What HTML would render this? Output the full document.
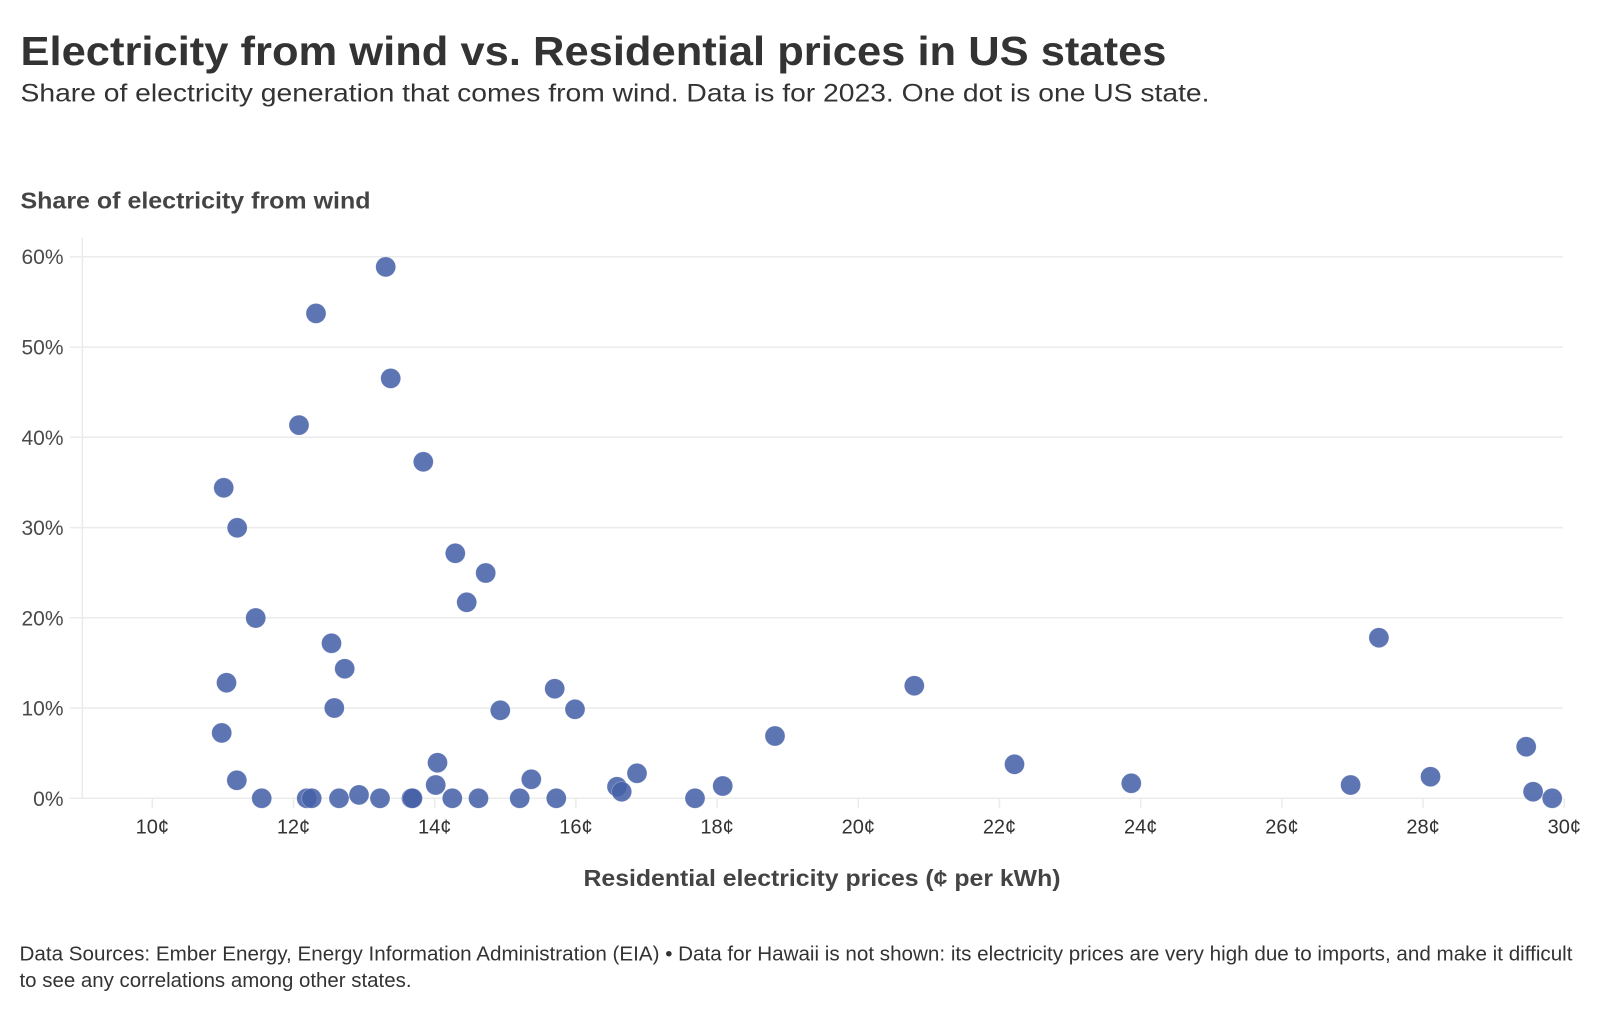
<!DOCTYPE html>
<html>
<head>
<meta charset="utf-8">
<style>
  html, body { margin: 0; padding: 0; background: #ffffff; }
  svg { display: block; }
  text { font-family: "Liberation Sans", "DejaVu Sans", sans-serif; }
</style>
</head>
<body>
<svg width="1600" height="1009" viewBox="0 0 1600 1009" xmlns="http://www.w3.org/2000/svg">
  <rect x="0" y="0" width="1600" height="1009" fill="#ffffff"/>

  <!-- Title & subtitle -->
  <text x="20.5" y="65" font-size="41" font-weight="bold" fill="#333333" textLength="1146" lengthAdjust="spacingAndGlyphs">Electricity from wind vs. Residential prices in US states</text>
  <text x="20.5" y="101.7" font-size="25" fill="#333333" textLength="1189" lengthAdjust="spacingAndGlyphs">Share of electricity generation that comes from wind. Data is for 2023. One dot is one US state.</text>

  <!-- Y axis title -->
  <text x="20.5" y="208.3" font-size="23" font-weight="bold" fill="#444444" textLength="350" lengthAdjust="spacingAndGlyphs">Share of electricity from wind</text>

  <!-- Gridlines -->
  <g stroke="#ebebeb" stroke-width="1.5">
    <line x1="70" y1="798.3" x2="1563" y2="798.3"/>
    <line x1="70" y1="708.1" x2="1563" y2="708.1"/>
    <line x1="70" y1="617.8" x2="1563" y2="617.8"/>
    <line x1="70" y1="527.6" x2="1563" y2="527.6"/>
    <line x1="70" y1="437.3" x2="1563" y2="437.3"/>
    <line x1="70" y1="347.1" x2="1563" y2="347.1"/>
    <line x1="70" y1="256.7" x2="1563" y2="256.7"/>
    <!-- y axis line -->
    <line x1="82.3" y1="237.5" x2="82.3" y2="798.3"/>
    <!-- x ticks -->
    <line x1="152.3" y1="798.3" x2="152.3" y2="808"/>
    <line x1="293.5" y1="798.3" x2="293.5" y2="808"/>
    <line x1="434.7" y1="798.3" x2="434.7" y2="808"/>
    <line x1="575.9" y1="798.3" x2="575.9" y2="808"/>
    <line x1="717.1" y1="798.3" x2="717.1" y2="808"/>
    <line x1="858.3" y1="798.3" x2="858.3" y2="808"/>
    <line x1="999.5" y1="798.3" x2="999.5" y2="808"/>
    <line x1="1140.7" y1="798.3" x2="1140.7" y2="808"/>
    <line x1="1281.9" y1="798.3" x2="1281.9" y2="808"/>
    <line x1="1423.1" y1="798.3" x2="1423.1" y2="808"/>
    <line x1="1564.3" y1="798.3" x2="1564.3" y2="808"/>
  </g>

  <!-- Y tick labels -->
  <g font-size="21" fill="#4a4a4a" text-anchor="end">
    <text x="63.5" y="805.8">0%</text>
    <text x="63.5" y="715.6">10%</text>
    <text x="63.5" y="625.3">20%</text>
    <text x="63.5" y="535.1">30%</text>
    <text x="63.5" y="444.8">40%</text>
    <text x="63.5" y="354.6">50%</text>
    <text x="63.5" y="264.2">60%</text>
  </g>

  <!-- X tick labels -->
  <g font-size="20" fill="#333333" text-anchor="middle">
    <text x="152.3" y="833.5">10¢</text>
    <text x="293.5" y="833.5">12¢</text>
    <text x="434.7" y="833.5">14¢</text>
    <text x="575.9" y="833.5">16¢</text>
    <text x="717.1" y="833.5">18¢</text>
    <text x="858.3" y="833.5">20¢</text>
    <text x="999.5" y="833.5">22¢</text>
    <text x="1140.7" y="833.5">24¢</text>
    <text x="1281.9" y="833.5">26¢</text>
    <text x="1423.1" y="833.5">28¢</text>
    <text x="1564.3" y="833.5">30¢</text>
  </g>

  <!-- X axis title -->
  <text x="583.5" y="886" font-size="23" font-weight="bold" fill="#444444" textLength="477" lengthAdjust="spacingAndGlyphs">Residential electricity prices (¢ per kWh)</text>

  <!-- Dots -->
  <g fill="#4660a8" fill-opacity="0.87" stroke="#ffffff" stroke-opacity="0.4" stroke-width="0.6">
    <circle cx="385.7" cy="266.9" r="10"/>
    <circle cx="316" cy="313.4" r="10"/>
    <circle cx="390.7" cy="378.4" r="10"/>
    <circle cx="299" cy="425.1" r="10"/>
    <circle cx="423.3" cy="461.8" r="10"/>
    <circle cx="223.7" cy="487.8" r="10"/>
    <circle cx="237.2" cy="527.8" r="10"/>
    <circle cx="455.3" cy="553.3" r="10"/>
    <circle cx="485.7" cy="573" r="10"/>
    <circle cx="466.7" cy="602.3" r="10"/>
    <circle cx="255.7" cy="618" r="10"/>
    <circle cx="331.5" cy="643.3" r="10"/>
    <circle cx="1378.9" cy="637.7" r="10"/>
    <circle cx="344.7" cy="668.7" r="10"/>
    <circle cx="226.5" cy="682.7" r="10"/>
    <circle cx="914.3" cy="685.7" r="10"/>
    <circle cx="554.7" cy="688.7" r="10"/>
    <circle cx="334.3" cy="708" r="10"/>
    <circle cx="575" cy="709.3" r="10"/>
    <circle cx="500.3" cy="710.3" r="10"/>
    <circle cx="221.7" cy="732.9" r="10"/>
    <circle cx="775" cy="736" r="10"/>
    <circle cx="1526.2" cy="746.7" r="10"/>
    <circle cx="437.5" cy="762.7" r="10"/>
    <circle cx="1014.5" cy="764.3" r="10"/>
    <circle cx="236.8" cy="780.3" r="10"/>
    <circle cx="637" cy="773.3" r="10"/>
    <circle cx="531.3" cy="779.3" r="10"/>
    <circle cx="435.7" cy="785" r="10"/>
    <circle cx="617" cy="786.7" r="10"/>
    <circle cx="722.7" cy="786" r="10"/>
    <circle cx="1131.3" cy="783.3" r="10"/>
    <circle cx="1350.6" cy="785" r="10"/>
    <circle cx="1430.5" cy="776.7" r="10"/>
    <circle cx="621.7" cy="791.7" r="10"/>
    <circle cx="1533.1" cy="791.7" r="10"/>
    <circle cx="261.7" cy="798.3" r="10"/>
    <circle cx="306.7" cy="798.3" r="10"/>
    <circle cx="311.7" cy="798.3" r="10"/>
    <circle cx="339" cy="798.3" r="10"/>
    <circle cx="359" cy="794.9" r="10"/>
    <circle cx="380" cy="798.3" r="10"/>
    <circle cx="411.5" cy="798.3" r="10"/>
    <circle cx="412.5" cy="798.3" r="10"/>
    <circle cx="452.3" cy="798.3" r="10"/>
    <circle cx="478.5" cy="798.3" r="10"/>
    <circle cx="519.7" cy="798.3" r="10"/>
    <circle cx="556.3" cy="798.3" r="10"/>
    <circle cx="695" cy="798.3" r="10"/>
    <circle cx="1552.2" cy="798.3" r="10"/>
  </g>

  <!-- Footer -->
  <text x="19.5" y="960.5" font-size="20" fill="#333333" textLength="1553" lengthAdjust="spacingAndGlyphs">Data Sources: Ember Energy, Energy Information Administration (EIA) • Data for Hawaii is not shown: its electricity prices are very high due to imports, and make it difficult</text>
  <text x="19.5" y="987" font-size="20" fill="#333333" textLength="392" lengthAdjust="spacingAndGlyphs">to see any correlations among other states.</text>
</svg>
</body>
</html>
